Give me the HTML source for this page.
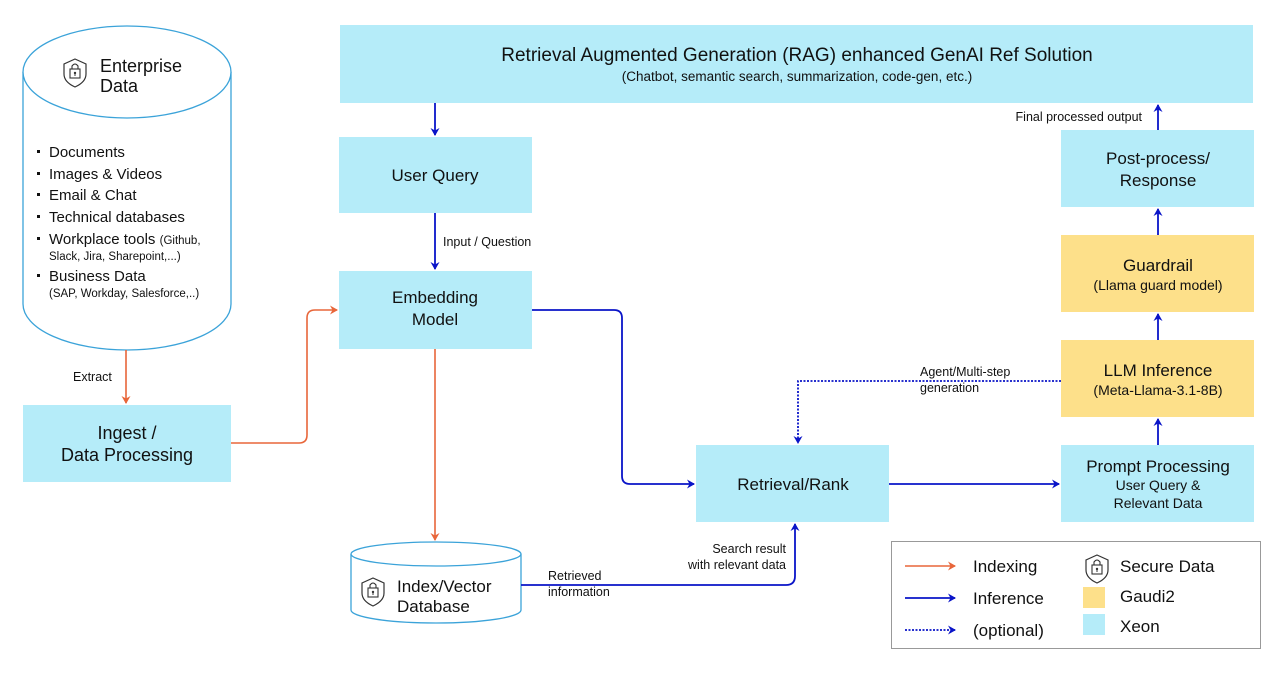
<!DOCTYPE html>
<html><head><meta charset="utf-8"><style>
body{margin:0;background:#fff}
svg{display:block;font-family:"Liberation Sans",sans-serif}
</style></head><body>
<svg width="1269" height="676" viewBox="0 0 1269 676" xmlns="http://www.w3.org/2000/svg">
<defs>
<marker id="ab" markerWidth="10" markerHeight="10" refX="7" refY="5" orient="auto" markerUnits="userSpaceOnUse"><path d="M0,0.5 L8,5 L0,9.5 L2.5,5 Z" fill="#0a14c8"/></marker>
<marker id="ao" markerWidth="10" markerHeight="10" refX="7" refY="5" orient="auto" markerUnits="userSpaceOnUse"><path d="M0,0.5 L8,5 L0,9.5 L2.5,5 Z" fill="#e8663a"/></marker>
<g id="shield"><path d="M0,-13 L11,-8 L11,2 Q11,10 0,15 Q-11,10 -11,2 L-11,-8 Z" fill="#fff" stroke="#333" stroke-width="1.2"/><rect x="-5" y="-3" width="10" height="9" fill="none" stroke="#333" stroke-width="1.1"/><path d="M-3,-3 V-6 Q0,-10 3,-6 V-3" fill="none" stroke="#333" stroke-width="1.1"/><circle cx="0" cy="1" r="1.2" fill="#333"/><line x1="0" y1="1" x2="0" y2="4" stroke="#333"/></g>
</defs>
<g fill="#b5ecf9">
<rect x="340" y="25" width="913" height="78"/>
<rect x="339" y="137" width="193" height="76"/>
<rect x="339" y="271" width="193" height="78"/>
<rect x="23" y="405" width="208" height="77"/>
<rect x="696" y="445" width="193" height="77"/>
<rect x="1061" y="445" width="193" height="77"/>
<rect x="1061" y="130" width="193" height="77"/>
</g>
<g fill="#fde08a">
<rect x="1061" y="235" width="193" height="77"/>
<rect x="1061" y="340" width="193" height="77"/>
</g>
<path d="M23,72 V304 A104,46 0 0 0 231,304 V72" fill="#fff" stroke="#3ba3d9" stroke-width="1.3"/>
<ellipse cx="127" cy="72" rx="104" ry="46" fill="#fff" stroke="#3ba3d9" stroke-width="1.3"/>
<use href="#shield" x="75" y="72"/>
<text x="100" y="72" font-size="18" fill="#111">Enterprise</text>
<text x="100" y="92" font-size="18" fill="#111">Data</text>
<g font-size="15" fill="#111">
<text x="49" y="157">Documents</text>
<text x="49" y="179">Images &amp; Videos</text>
<text x="49" y="200">Email &amp; Chat</text>
<text x="49" y="222">Technical databases</text>
<text x="49" y="244">Workplace tools <tspan font-size="11.5">(Github,</tspan></text>
<text x="49" y="260" font-size="11.5">Slack, Jira, Sharepoint,...)</text>
<text x="49" y="281">Business Data</text>
<text x="49" y="297" font-size="11.5">(SAP, Workday, Salesforce,..)</text>
</g>
<g fill="#111"><rect x="37" y="150" width="3" height="3"/><rect x="37" y="172" width="3" height="3"/><rect x="37" y="193" width="3" height="3"/><rect x="37" y="215" width="3" height="3"/><rect x="37" y="237" width="3" height="3"/><rect x="37" y="274" width="3" height="3"/></g>
<path d="M351,554 V610 A85,13 0 0 0 521,610 V554" fill="#fff" stroke="#3ba3d9" stroke-width="1.3"/>
<ellipse cx="436" cy="554" rx="85" ry="12" fill="#fff" stroke="#3ba3d9" stroke-width="1.3"/>
<use href="#shield" x="373" y="591"/>
<text x="397" y="592" font-size="17" fill="#111">Index/Vector</text>
<text x="397" y="612" font-size="17" fill="#111">Database</text>
<g fill="#111" text-anchor="middle">
<text x="797" y="61" font-size="19">Retrieval Augmented Generation (RAG) enhanced GenAI Ref Solution</text>
<text x="797" y="81" font-size="13.5">(Chatbot, semantic search, summarization, code-gen, etc.)</text>
<text x="435" y="181" font-size="17">User Query</text>
<text x="435" y="303" font-size="17">Embedding</text>
<text x="435" y="325" font-size="17">Model</text>
<text x="127" y="439" font-size="18">Ingest /</text>
<text x="127" y="461" font-size="18">Data Processing</text>
<text x="793" y="490" font-size="17">Retrieval/Rank</text>
<text x="1158" y="472" font-size="17">Prompt Processing</text>
<text x="1158" y="490" font-size="14">User Query &amp;</text>
<text x="1158" y="508" font-size="14">Relevant Data</text>
<text x="1158" y="376" font-size="17">LLM Inference</text>
<text x="1158" y="395" font-size="14">(Meta-Llama-3.1-8B)</text>
<text x="1158" y="271" font-size="17">Guardrail</text>
<text x="1158" y="290" font-size="14">(Llama guard model)</text>
<text x="1158" y="164" font-size="17">Post-process/</text>
<text x="1158" y="186" font-size="17">Response</text>
</g>
<g fill="#111" font-size="12.5">
<text x="443" y="246">Input / Question</text>
<text x="73" y="381">Extract</text>
<text x="548" y="580">Retrieved</text>
<text x="548" y="596">information</text>
<text x="786" y="553" text-anchor="end">Search result</text>
<text x="786" y="569" text-anchor="end">with relevant data</text>
<text x="920" y="376">Agent/Multi-step</text>
<text x="920" y="392">generation</text>
<text x="1142" y="121" text-anchor="end">Final processed output</text>
</g>
<g fill="none" stroke="#e8663a" stroke-width="1.6">
<path d="M126,350 V403" marker-end="url(#ao)"/>
<path d="M231,443 H299 Q307,443 307,435 V318 Q307,310 315,310 H337" marker-end="url(#ao)"/>
<path d="M435,349 V540" marker-end="url(#ao)"/>
<path d="M905,566 H955" marker-end="url(#ao)"/>
</g>
<g fill="none" stroke="#0a14c8" stroke-width="1.8">
<path d="M435,103 V135" marker-end="url(#ab)"/>
<path d="M435,213 V269" marker-end="url(#ab)"/>
<path d="M532,310 H614 Q622,310 622,318 V476 Q622,484 630,484 H694" marker-end="url(#ab)"/>
<path d="M521,585 H786 Q795,585 795,576 V524" marker-end="url(#ab)"/>
<path d="M889,484 H1059" marker-end="url(#ab)"/>
<path d="M1158,445 V419" marker-end="url(#ab)"/>
<path d="M1158,340 V314" marker-end="url(#ab)"/>
<path d="M1158,235 V209" marker-end="url(#ab)"/>
<path d="M1158,130 V105" marker-end="url(#ab)"/>
<path d="M1061,381 H798 V443" stroke-dasharray="2,1.5" marker-end="url(#ab)"/>
<path d="M905,598 H955" marker-end="url(#ab)"/>
<path d="M905,630 H955" stroke-dasharray="2,1.5" marker-end="url(#ab)"/>
</g>
<rect x="891.5" y="541.5" width="369" height="107" fill="none" stroke="#999" stroke-width="1"/>
<g font-size="17" fill="#111">
<text x="973" y="572">Indexing</text>
<text x="973" y="604">Inference</text>
<text x="973" y="636">(optional)</text>
<text x="1120" y="572">Secure Data</text>
<text x="1120" y="602">Gaudi2</text>
<text x="1120" y="632">Xeon</text>
</g>
<use href="#shield" x="1097" y="568"/>
<rect x="1083" y="587" width="22" height="21" fill="#fde08a"/>
<rect x="1083" y="614" width="22" height="21" fill="#b5ecf9"/>
</svg>
</body></html>
